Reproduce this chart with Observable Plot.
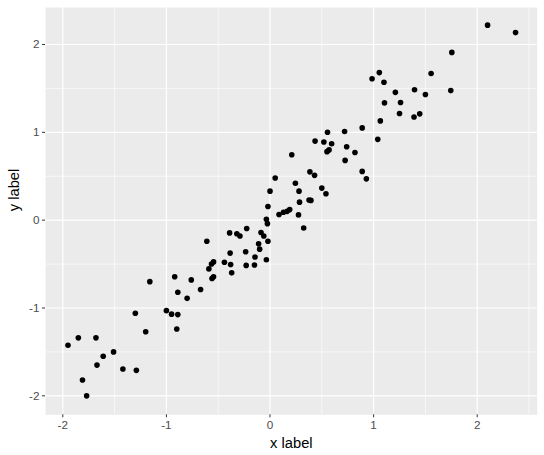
<!DOCTYPE html>
<html>
<head>
<meta charset="utf-8">
<script src="https://cdn.jsdelivr.net/npm/d3@7"></script>
<script src="https://cdn.jsdelivr.net/npm/@observablehq/plot@0.6"></script>
<style>
  html, body { margin: 0; padding: 0; background: #fff; }
  #chart svg { display: block; font-family: "Liberation Sans", Arial, sans-serif; }
</style>
</head>
<body>
<div id="chart"></div>
<script>
const xs = [
  -0.61, -0.545, -0.565, -0.59, -0.92, -0.76, -1.16, -0.545, -0.56, -0.89,
  -0.67, -0.80, -1.00, -0.95, -0.89, -1.30, -0.90, -1.20, -1.85, -1.68,
  -1.95, -1.51, -1.61, -1.67, -1.42, -1.29, -1.81, -1.77,
  0.21, 0.05, 0.245, 0.00, 0.28, 0.285, -0.02, 0.087, 0.13, 0.165,
  0.19, 0.275, -0.035, -0.025, -0.225, -0.39, -0.32, -0.29, -0.087, -0.06,
  -0.02, -0.11, -0.10, -0.235, -0.385, -0.145, -0.035, -0.44, -0.38, -0.23,
  -0.15, -0.37,
  1.21, 1.105, 1.26, 1.25, 1.065, 0.555, 0.72, 0.89, 0.435, 0.52,
  0.595, 0.57, 0.55, 1.04, 0.74, 0.82, 0.725, 0.89, 0.93, 0.385,
  0.43, 0.50, 0.54, 0.377, 0.395, 0.325,
  2.10, 2.37, 1.755, 1.055, 0.985, 1.10, 1.555, 1.395, 1.50, 1.745,
  1.39, 1.445
];
const ys = [
  -0.24, -0.475, -0.50, -0.555, -0.645, -0.68, -0.70, -0.645, -0.665, -0.82,
  -0.79, -0.89, -1.03, -1.07, -1.075, -1.06, -1.24, -1.27, -1.34, -1.34,
  -1.425, -1.50, -1.55, -1.65, -1.695, -1.71, -1.82, -2.00,
  0.745, 0.48, 0.42, 0.33, 0.33, 0.205, 0.155, 0.065, 0.09, 0.10,
  0.12, 0.06, 0.01, -0.04, -0.095, -0.145, -0.155, -0.18, -0.14, -0.18,
  -0.24, -0.27, -0.33, -0.36, -0.375, -0.42, -0.45, -0.48, -0.505, -0.515,
  -0.51, -0.60,
  1.455, 1.335, 1.34, 1.215, 1.13, 1.00, 1.01, 1.05, 0.90, 0.89,
  0.87, 0.80, 0.78, 0.92, 0.835, 0.77, 0.68, 0.555, 0.47, 0.55,
  0.51, 0.365, 0.30, 0.23, 0.225, -0.09,
  2.22, 2.135, 1.91, 1.68, 1.61, 1.57, 1.67, 1.485, 1.43, 1.475,
  1.175, 1.21
];
const xTicks = [-2, -1, 0, 1, 2];
const yTicks = [-2, -1, 0, 1, 2];
const xMinor = [-1.5, -0.5, 0.5, 1.5, 2.5];
const yMinor = [-1.5, -0.5, 0.5, 1.5];
const xLabel = "x label";
const yLabel = "y label";

const points = xs.map((x, i) => ({x, y: ys[i]}));
const fmt = d => String(d);

const chart = Plot.plot({
  width: 544,
  height: 455,
  marginLeft: 45,
  marginTop: 7,
  marginRight: 7.3,
  marginBottom: 40.7,
  style: {fontFamily: "'Liberation Sans', Arial, sans-serif", background: "#fff"},
  x: {domain: [-2.167, 2.579]},
  y: {domain: [-2.216, 2.421]},
  marks: [
    Plot.frame({fill: "#EBEBEB", stroke: null}),
    Plot.gridX(xMinor, {stroke: "#fff", strokeOpacity: 1, strokeWidth: 0.6}),
    Plot.gridY(yMinor, {stroke: "#fff", strokeOpacity: 1, strokeWidth: 0.6}),
    Plot.gridX(xTicks, {stroke: "#fff", strokeOpacity: 1, strokeWidth: 1.2}),
    Plot.gridY(yTicks, {stroke: "#fff", strokeOpacity: 1, strokeWidth: 1.2}),
    Plot.axisX(xTicks, {tickSize: 3, tickPadding: 3, stroke: "#333", fill: "#4D4D4D", fontSize: 11.7, label: null, tickFormat: fmt}),
    Plot.axisY(yTicks, {tickSize: 3, tickPadding: 3, stroke: "#333", fill: "#4D4D4D", fontSize: 11.7, label: null, tickFormat: fmt}),
    Plot.dot(points, {x: "x", y: "y", r: 2.8, fill: "black", stroke: null}),
    Plot.text([xLabel], {frameAnchor: "bottom", dy: 28, lineAnchor: "middle", fontSize: 14.7, fill: "black"}),
    Plot.text([yLabel], {frameAnchor: "left", dx: -31, rotate: -90, lineAnchor: "middle", fontSize: 14.7, fill: "black"})
  ]
});
document.getElementById("chart").appendChild(chart);
</script>
</body>
</html>
